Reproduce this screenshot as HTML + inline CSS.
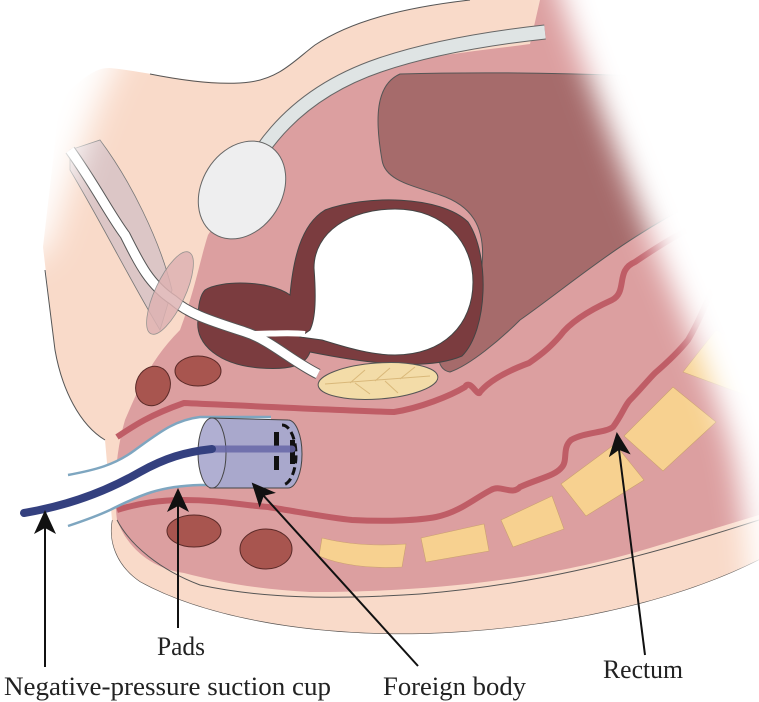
<!DOCTYPE html>
<html><head><meta charset="utf-8"><style>
html,body{margin:0;padding:0;background:#fff;}
svg{display:block;}
text{font-family:"Liberation Serif",serif;fill:#222;}
</style></head><body>
<svg width="759" height="702" viewBox="0 0 759 702" xmlns="http://www.w3.org/2000/svg">
<defs>
<filter id="bl" x="-30%" y="-30%" width="160%" height="160%"><feGaussianBlur stdDeviation="14"/></filter>
<filter id="bl2" x="-30%" y="-30%" width="160%" height="160%"><feGaussianBlur stdDeviation="16"/></filter>
<marker id="ah2" markerWidth="24" markerHeight="22" refX="22" refY="11" orient="auto" markerUnits="userSpaceOnUse" viewBox="0 0 24 22"><path d="M0,0 L24,11 L0,22 L6,11 Z" fill="#111"/></marker>
<clipPath id="body"><path d="M60,100 C90,70 100,68 110,68 C150,72 200,86 250,82 C280,78 295,60 315,45 C350,22 400,8 470,0 L759,0 L759,560 C680,600 560,630 420,634 C300,636 200,615 140,582 C115,565 108,540 112,520 L105,440 C80,425 62,390 55,350 L43,247 Z"/></clipPath>
</defs>

<g clip-path="url(#body)">
<rect width="759" height="702" fill="#f9dac9"/>

<path d="M70,150 L100,140 C130,180 160,240 172,290 L160,330 C130,280 100,220 70,170 Z" fill="#dcc6c6" stroke="#777" stroke-width="0.8"/>

<path d="M208,235 C200,260 195,290 180,330 C150,360 138,390 125,420 C116,450 113,490 117,520 C130,555 160,570 184,573 C230,585 270,590 310,592 C380,592 440,588 500,580 C560,572 610,560 650,548 L759,515 L759,0 L540,0 L530,44 C470,52 420,56 380,70 C330,88 290,120 271,140 L250,170 Z" fill="#dc9fa0"/>

<path d="M262,150 C290,110 330,82 380,65 C430,48 490,38 545,32" fill="none" stroke="#666" stroke-width="15"/>
<path d="M262,150 C290,110 330,82 380,65 C430,48 490,38 545,32" fill="none" stroke="#dfe4e4" stroke-width="13"/>
<ellipse cx="242" cy="190" rx="40" ry="52" transform="rotate(32 242 190)" fill="#eeeeef" stroke="#666" stroke-width="1"/>

<path d="M400,74 C470,72 580,72 720,80 L700,200 C620,240 570,285 520,320 C500,340 470,365 450,372 C438,370 437,355 440,350 C460,335 478,310 482,265 C486,225 470,205 440,195 C410,185 385,180 382,160 C375,120 375,85 400,74 Z" fill="#a66b6b" stroke="#555" stroke-width="1"/>

<path d="M205,290 C220,280 270,280 290,295 C293,262 300,225 325,210 C365,195 440,195 468,222 C490,255 488,330 462,356 C425,372 360,362 310,352 C305,366 290,370 260,368 C220,365 195,345 198,320 C198,305 200,295 205,290 Z" fill="#7b3c3f" stroke="#444" stroke-width="1"/>
<path d="M395,209 C445,209 473,243 473,282 C473,325 443,355 395,355 C370,355 345,347 322,340 L300,337 L310,330 C316,318 316,295 314,268 C314,232 350,209 395,209 Z" fill="#fff" stroke="#444" stroke-width="1"/>

<path d="M70,150 C95,185 110,215 125,235 C140,265 150,285 173,300 C190,315 215,322 245,332 C270,340 290,360 318,374" fill="none" stroke="#555" stroke-width="11"/>
<path d="M70,150 C95,185 110,215 125,235 C140,265 150,285 173,300 C190,315 215,322 245,332 C270,340 290,360 318,374" fill="none" stroke="#fff" stroke-width="9"/>
<path d="M250,334 C270,334 290,332 305,334" fill="none" stroke="#fff" stroke-width="6"/>
<ellipse cx="170" cy="293" rx="15" ry="45" transform="rotate(25 170 293)" fill="#deb3b3" stroke="#888" stroke-width="0.8" opacity="0.85"/>

<ellipse cx="378" cy="381" rx="60" ry="18" transform="rotate(-4 378 381)" fill="#f3dca8" stroke="#555" stroke-width="1"/>
<path d="M325,384 L430,376 M350,383 L365,370 M375,381 L390,368 M400,379 L415,367 M355,383 L370,394 M385,381 L398,393" stroke="#d9b87a" stroke-width="1" fill="none"/>

<g fill="#a8554f" stroke="#5a2a28" stroke-width="1">
<ellipse cx="153" cy="386" rx="17" ry="20" transform="rotate(20 153 386)"/>
<ellipse cx="198" cy="371" rx="23" ry="15"/>
<ellipse cx="194" cy="531" rx="27" ry="16"/>
<ellipse cx="266" cy="549" rx="26" ry="20"/>
</g>

<path d="M117,520 C130,545 160,570 200,585 C260,598 330,600 420,594 C520,586 620,565 759,520" fill="none" stroke="#555" stroke-width="1"/>
<path d="M112,520 C108,540 115,565 140,582 C200,615 300,636 420,634 C560,630 680,600 759,560" fill="none" stroke="#555" stroke-width="1.2"/>

<g fill="#f7d190" stroke="#caa070" stroke-width="0.6">
<path d="M322,538 C350,545 380,546 406,544 L402,567 C370,569 340,565 319,556 Z"/>
<path d="M421,538 L484,524 L489,551 L426,562 Z"/>
<path d="M501,520 L552,496 L564,529 L513,547 Z"/>
<path d="M561,484 L615,444 L644,480 L586,516 Z"/>
<path d="M624,436 L673,387 L716,422 L663,471 Z"/>
<path d="M683,372 L716,330 L759,352 L759,400 Z"/>
</g>

<path d="M117,437 C135,425 150,415 184,403 C230,405 330,410 394,412 C420,408 450,396 465,387 C470,378 478,398 480,392 C490,380 510,370 529,363 C545,352 552,345 560,336 C570,322 590,310 612,300 C628,292 615,270 635,262 C660,245 690,225 759,196" fill="none" stroke="#bf5d66" stroke-width="6"/>
<path d="M117,510 C140,503 160,500 184,500 C220,500 240,505 268,507 C300,512 330,518 352,520 C390,522 420,520 436,517 C460,512 475,498 491,490 C500,484 512,496 520,487 C540,478 555,476 562,467 C568,460 562,448 571,440 C585,432 605,433 613,427 C622,415 625,405 630,400 C640,390 648,380 655,373 C670,360 680,350 688,340 C700,320 705,305 712,290" fill="none" stroke="#bf5d66" stroke-width="6"/>
</g>

<path d="M548,-40 C580,60 620,160 660,260 C690,330 715,390 732,450 C742,500 748,540 752,620 L820,620 L820,-40 Z" fill="#fff" filter="url(#bl)"/>
<path d="M-40,-40 L140,-40 L125,50 C95,100 75,170 48,250 L-40,290 Z" fill="#fff" filter="url(#bl2)"/>
<path d="M150,74 C180,80 220,86 250,82 C280,78 295,60 315,45 C350,22 400,8 470,0" fill="none" stroke="#555" stroke-width="1"/>
<path d="M45,270 L55,350 C62,390 80,425 105,440" fill="none" stroke="#555" stroke-width="1"/>

<path d="M68,475 C95,470 115,465 135,450 C160,432 175,420 200,417 L271,417 L271,485 L200,485 C160,486 140,495 110,510 C95,517 80,522 68,526 Z" fill="#fff"/>
<path d="M68,475 C95,470 115,465 135,450 C160,432 175,420 200,417 L271,417" fill="none" stroke="#7ea6c0" stroke-width="2.5"/>
<path d="M68,526 C80,522 95,517 110,510 C140,495 160,486 200,485 L271,485" fill="none" stroke="#7ea6c0" stroke-width="2.5"/>

<path d="M210,418 L288,420 A14,34 0 0 1 288,488 L210,488 Z" fill="#a9a8cc" stroke="#444" stroke-width="1"/>
<ellipse cx="212" cy="453" rx="14" ry="35" fill="#b0afd2" stroke="#444" stroke-width="1"/>
<path d="M282,425 A14,30 0 0 1 282,485" fill="none" stroke="#111" stroke-width="3" stroke-dasharray="8,4"/>
<rect x="274" y="432" width="5" height="14" fill="#111"/><rect x="274" y="456" width="5" height="14" fill="#111"/>
<rect x="290" y="440" width="5" height="24" fill="#111"/>
<path d="M212,449 L292,449" stroke="#6868a8" stroke-width="7" stroke-linecap="round" opacity="0.85"/>
<path d="M24,513 C60,507 100,495 140,472 C165,458 185,452 212,449" fill="none" stroke="#34407f" stroke-width="8" stroke-linecap="round"/>

<g stroke="#111" stroke-width="2" fill="none">
<line x1="45" y1="667" x2="45" y2="512" marker-end="url(#ah2)"/>
<line x1="178" y1="628" x2="178" y2="490" marker-end="url(#ah2)"/>
<line x1="418" y1="666" x2="253" y2="484" marker-end="url(#ah2)"/>
<line x1="645" y1="655" x2="617" y2="434" marker-end="url(#ah2)"/>
</g>

<text x="4" y="695" font-size="26" textLength="327" lengthAdjust="spacingAndGlyphs">Negative-pressure suction cup</text>
<text x="157" y="655" font-size="26" textLength="48" lengthAdjust="spacingAndGlyphs">Pads</text>
<text x="383" y="695" font-size="26" textLength="143" lengthAdjust="spacingAndGlyphs">Foreign body</text>
<text x="603" y="678" font-size="26" textLength="80" lengthAdjust="spacingAndGlyphs">Rectum</text>
</svg>
</body></html>
